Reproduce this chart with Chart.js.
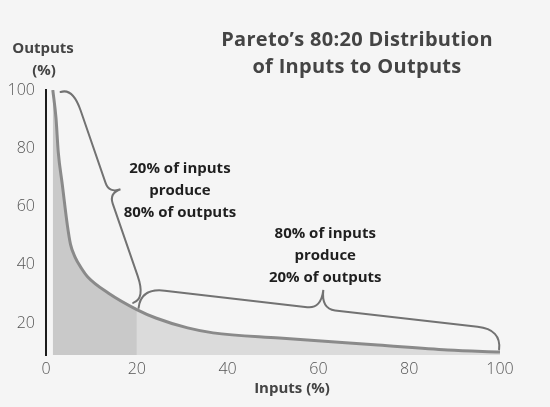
<!DOCTYPE html>
<html>
<head>
<meta charset="utf-8">
<script src="https://cdn.jsdelivr.net/npm/chart.js@4.4.1/dist/chart.umd.min.js"></script>
<style>
  html, body { margin: 0; padding: 0; background: #f5f5f5; }
  #paretoChart { display: block; }
</style>
</head>
<body>
<canvas id="paretoChart" width="550" height="407"></canvas>
<script>
// inputs (%) and outputs (%)
var inputs  = [1.5, 2.2, 2.7, 3.6, 4.7, 5.4, 6.4, 7.8, 9.2, 13.7, 20, 24.2, 31.2, 36.8, 51.4, 73.1, 88.5, 100];
var outputs = [100, 90.4, 78.7, 67.4, 53.6, 47.0, 42.6, 38.8, 35.8, 30.3, 24.6, 21.7, 18.3, 16.6, 14.8, 12.4, 10.7, 10.0];
var xTicks = [0, 20, 40, 60, 80, 100];
var yTicks = [20, 40, 60, 80, 100];
var splitAt = 20;

var titleLines = ["Pareto\u2019s 80:20 Distribution", "of Inputs to Outputs"];
var yTitleLines = ["Outputs", "(%)"];
var xTitle = "Inputs (%)";
var noteTop = ["20% of inputs", "produce", "80% of outputs"];
var noteBottom = ["80% of inputs", "produce", "20% of outputs"];

// braces, ends given in axis units
var braces = [
  { from: [3.2, 99.3], to: [19.2, 26.9], depth: 25, body: 13, curl: 24, tip: 11 },
  { from: [20.4, 25.2], to: [99.8, 10.9], depth: 39, body: 20, curl: 24, tip: 14 }
];
var notes = [
  { at: [29.5, 65.3], lines: noteTop },
  { at: [61.5, 43.2], lines: noteBottom }
];

var curve = inputs.map(function (x, i) { return { x: x, y: outputs[i] }; });
var firstPart = curve.filter(function (p) { return p.x <= splitAt; });

function drawBrace(ctx, a, b, br) {
  var dx = b.x - a.x, dy = b.y - a.y;
  var len = Math.sqrt(dx * dx + dy * dy);
  var ux = dx / len, uy = dy / len;
  var nx = uy, ny = -ux;
  function pt(along, off) { return [a.x + ux * along + nx * off, a.y + uy * along + ny * off]; }
  var half = len / 2, c, p;
  ctx.beginPath();
  ctx.moveTo(a.x, a.y);
  c = pt(0, br.body); p = pt(br.curl, br.body);
  ctx.quadraticCurveTo(c[0], c[1], p[0], p[1]);
  p = pt(half - br.tip, br.body); ctx.lineTo(p[0], p[1]);
  c = pt(half, br.body); p = pt(half, br.depth);
  ctx.quadraticCurveTo(c[0], c[1], p[0], p[1]);
  p = pt(half + br.tip, br.body);
  ctx.quadraticCurveTo(c[0], c[1], p[0], p[1]);
  p = pt(len - br.curl, br.body); ctx.lineTo(p[0], p[1]);
  c = pt(len, br.body);
  ctx.quadraticCurveTo(c[0], c[1], b.x, b.y);
  ctx.stroke();
}

var notesPlugin = {
  id: 'notes',
  afterDraw: function (chart) {
    var ctx = chart.ctx, xs = chart.scales.x, ys = chart.scales.y;
    ctx.save();
    ctx.strokeStyle = '#727272';
    ctx.lineWidth = 2;
    ctx.lineCap = 'round';
    braces.forEach(function (br) {
      var a = { x: xs.getPixelForValue(br.from[0]), y: ys.getPixelForValue(br.from[1]) };
      var b = { x: xs.getPixelForValue(br.to[0]), y: ys.getPixelForValue(br.to[1]) };
      drawBrace(ctx, a, b, br);
    });

    ctx.textAlign = 'center';
    ctx.textBaseline = 'middle';
    ctx.fillStyle = '#1f1f1f';
    ctx.font = 'bold 15px "Open Sans"';
    notes.forEach(function (n) {
      var cx = xs.getPixelForValue(n.at[0]);
      var cy = ys.getPixelForValue(n.at[1]);
      n.lines.forEach(function (t, i) {
        ctx.fillText(t, cx, cy + (i - 1) * 22);
      });
    });

    ctx.textBaseline = 'alphabetic';
    ctx.fillStyle = '#444';
    ctx.font = 'bold 20px "Open Sans"';
    ctx.letterSpacing = '0.3px';
    titleLines.forEach(function (t, i) { ctx.fillText(t, 357, 46 + i * 27); });
    ctx.letterSpacing = '0px';

    ctx.font = 'bold 15px "Open Sans"';
    ctx.fillText(yTitleLines[0], 43, 53);
    ctx.fillText(yTitleLines[1], 44, 75);
    ctx.fillText(xTitle, 292, 393);
    ctx.restore();
  }
};

var chart = new Chart(document.getElementById('paretoChart'), {
  type: 'line',
  data: {
    datasets: [
      {
        data: firstPart,
        borderWidth: 0,
        pointRadius: 0,
        fill: 'start',
        backgroundColor: '#c9c9c9',
        cubicInterpolationMode: 'monotone'
      },
      {
        data: curve,
        borderColor: '#8a8a8a',
        borderWidth: 3,
        pointRadius: 0,
        fill: 'start',
        backgroundColor: '#dbdbdb',
        cubicInterpolationMode: 'monotone'
      }
    ]
  },
  options: {
    responsive: false,
    animation: false,
    layout: { padding: { top: 90, right: 50, left: 0, bottom: 0 } },
    plugins: {
      legend: { display: false },
      tooltip: { enabled: false },
      filler: { drawTime: 'beforeDatasetsDraw' }
    },
    scales: {
      x: {
        type: 'linear',
        min: 0,
        max: 100,
        grid: { display: false, drawTicks: false },
        border: { display: false },
        afterBuildTicks: function (s) { s.ticks = xTicks.map(function (v) { return { value: v }; }); },
        afterFit: function (s) { s.height = 52; },
        ticks: { color: '#555', padding: 5, font: { family: 'Open Sans', size: 16, weight: '300' } }
      },
      y: {
        min: 9,
        max: 100,
        grid: { display: false, drawTicks: false },
        border: { display: true, color: '#1c1c1c', width: 2 },
        afterBuildTicks: function (s) { s.ticks = yTicks.map(function (v) { return { value: v }; }); },
        afterFit: function (s) { s.width = 46; },
        ticks: { color: '#555', padding: 11, font: { family: 'Open Sans', size: 16, weight: '300' } }
      }
    }
  },
  plugins: [notesPlugin]
});
</script>
</body>
</html>
